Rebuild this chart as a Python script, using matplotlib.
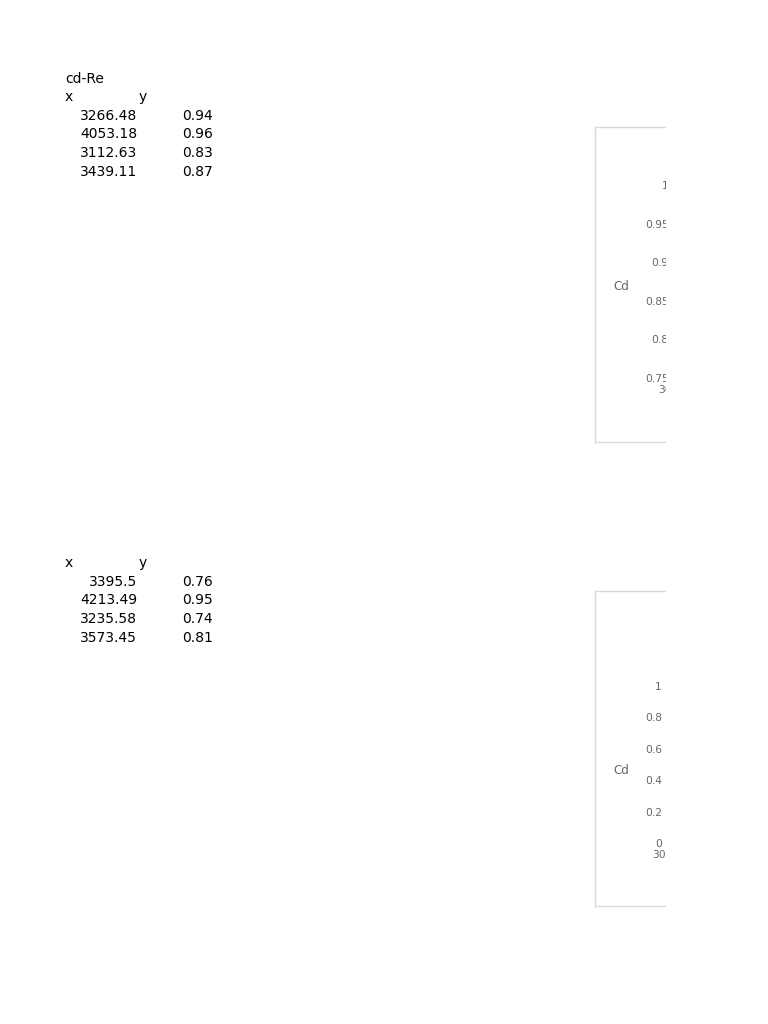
import matplotlib.pyplot as plt
from matplotlib.patches import Rectangle

# sheet data
title = "cd-Re"
x1 = [3266.48, 4053.18, 3112.63, 3439.11]
y1 = [0.94, 0.96, 0.83, 0.87]
x2 = [3395.5, 4213.49, 3235.58, 3573.45]
y2 = [0.76, 0.95, 0.74, 0.81]
x2_labels = ["3395.5", "4213.49", "3235.58", "3573.45"]
yticks1 = [0.75, 0.8, 0.85, 0.9, 0.95, 1.0]
ytick_labels1 = ["0.75", "0.8", "0.85", "0.9", "0.95", "1"]
yticks2 = [0, 0.2, 0.4, 0.6, 0.8, 1.0]
ytick_labels2 = ["0", "0.2", "0.4", "0.6", "0.8", "1"]

W, H = 768, 1024
fig = plt.figure(figsize=(W / 100, H / 100), dpi=100)


def fx(px):
    return px / W


def fy(py):
    return 1 - py / H


def box(left, top, right, bottom):
    return [fx(left), fy(bottom), fx(right) - fx(left), fy(top) - fy(bottom)]


# cell text
fs = 10
fig.text(fx(65), fy(79), title, fontsize=fs, va="center")


def table(y_head, xs, ys, xlabels=None):
    fig.text(fx(65), fy(y_head), "x", fontsize=fs, va="center")
    fig.text(fx(139), fy(y_head), "y", fontsize=fs, va="center")
    for i, (xv, yv) in enumerate(zip(xs, ys)):
        row = y_head + 18.7 * (i + 1)
        xs_txt = xlabels[i] if xlabels else f"{xv:.2f}"
        fig.text(fx(137), fy(row), xs_txt, fontsize=fs, va="center", ha="right")
        fig.text(fx(213), fy(row), f"{yv:.2f}", fontsize=fs, va="center", ha="right")


table(97, x1, y1)
table(563, x2, y2, x2_labels)

gray = "#666666"


def chart(frame_top, frame_bottom, plot_left, plot_top, plot_bottom, xs, ys, yt, ytl, ylim):
    frame = fig.add_axes(box(595, frame_top, 760, frame_bottom))
    frame.set_xticks([])
    frame.set_yticks([])
    for s in frame.spines.values():
        s.set_color("#d9d9d9")
        s.set_linewidth(1)
    frame.set_zorder(0)

    ax = fig.add_axes(box(plot_left, plot_top, plot_left + 250, plot_bottom))
    ax.set_zorder(1)
    ax.patch.set_alpha(0)
    ax.scatter(xs, ys, s=20, color="#4472c4")
    ax.set_xlim(3000, 4500)
    ax.set_ylim(*ylim)
    ax.set_yticks(yt)
    ax.set_yticklabels(ytl)
    ax.set_xticks([3000])
    ax.set_xticklabels(["3000"])
    ax.tick_params(length=0, labelsize=7.7, labelcolor=gray)
    ax.tick_params(axis="y", pad=2.5)
    ax.tick_params(axis="x", pad=5)
    for s in ax.spines.values():
        s.set_visible(False)
    fig.text(fx(613), fy((plot_top + plot_bottom) / 2 + 5.5), "Cd", fontsize=8.6,
             color=gray, va="center")


chart(127, 442, 672, 185, 378, x1, y1, yticks1, ytick_labels1, (0.75, 1.0))
chart(591, 906, 665.5, 686, 843, x2, y2, yticks2, ytick_labels2, (0, 1.0))

# page is cut off at the right
fig.add_artist(Rectangle((fx(666), 0), 1 - fx(666), 1, transform=fig.transFigure,
                         facecolor="white", edgecolor="none", zorder=10))

fig.savefig("out.png", dpi=100)
